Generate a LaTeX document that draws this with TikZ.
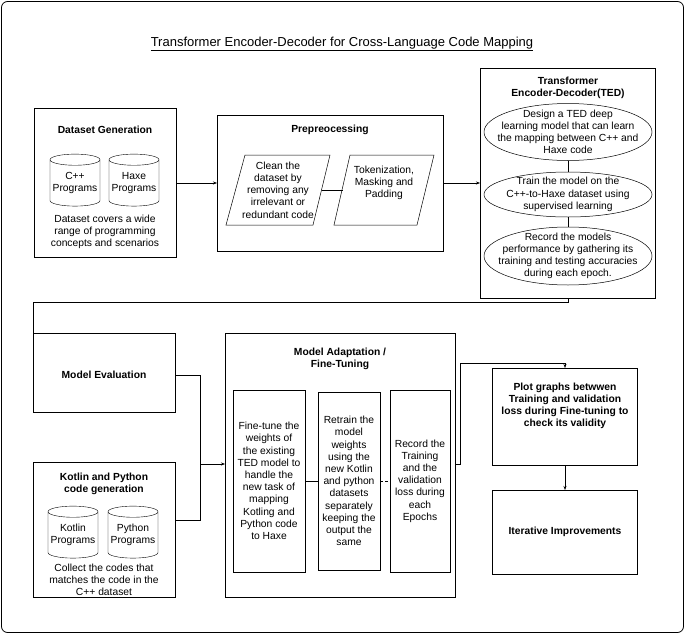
\documentclass[tikz,border=0pt]{standalone}
\usepackage{fontspec}
\setmainfont{Liberation Sans}
\usetikzlibrary{shapes.geometric,arrows.meta}
\begin{document}
\begin{tikzpicture}[x=1pt,y=-1pt,
  box/.style={draw,line width=0.7pt,inner sep=0pt},
  txt/.style={align=center,font=\fontsize{10.3}{12.2}\selectfont},
  bt/.style={align=center,font=\fontsize{10.3}{12.2}\selectfont\bfseries},
  cyl/.style={draw,cylinder,shape border rotate=90,aspect=0.25,minimum width=50pt,minimum height=52pt,inner sep=0pt,font=\fontsize{10.3}{12.2}\selectfont,align=center},
  arr/.style={-{Stealth[length=4pt,width=3pt]},line width=0.5pt},
  ln/.style={line width=0.5pt}]
\useasboundingbox (0,0) rectangle (685,634);
\draw[rounded corners=6pt,line width=0.8pt] (1.5,1.5) rectangle (683.5,632.5);
\node[font=\fontsize{13}{15}\selectfont] (title) at (342,44) {\underline{Transformer Encoder-Decoder for Cross-Language Code Mapping}};
% Dataset generation
\draw[box] (34,108) rectangle (176,257); \coordinate (dg) at (176,183);
\node[bt] (dgt) at (105,130) {Dataset Generation};
\node[cyl] (cpp) at (75,183) {C++\\Programs};
\node[cyl] (haxe) at (134,183) {Haxe\\Programs};
\node[txt] (dgd) at (105,232) {Dataset covers a wide\\range of programming\\concepts and scenarios};
% Preprocessing
\draw[box] (217,115) rectangle (443,251); \coordinate (ppl) at (217,183); \coordinate (ppr) at (443,183);
\node[bt] (ppt) at (330,130) {Prepreocessing};
\draw[ln] (245,155) -- (330,155) -- (313,225) -- (226,225) -- cycle;
\node[txt] (p1) at (278,190) {Clean the\\dataset by\\removing any\\irrelevant or\\redundant code};
\draw[ln] (350,155) -- (434,155) -- (417,225) -- (334,225) -- cycle;
\node[txt] (p2) at (384,183) {Tokenization,\\Masking and\\Padding};
\coordinate (p1r) at (321.5,190); \coordinate (p2l) at (342.5,190);
\draw[ln] (p1r) -- (p2l);
\draw[arr] (dg) -- (ppl);
% TED
\draw[box] (480,68) rectangle (655,298); \coordinate (tedl) at (480,183); \coordinate (tedb) at (568,298);
\node[bt] (tedt) at (568,88) {Transformer\\Encoder-Decoder(TED)};
\draw[ln] (568,132) ellipse (84 and 28.5);
\draw[ln] (568,194.5) ellipse (84 and 22.5);
\draw[ln] (568,256) ellipse (84 and 29);
\node[txt] (e1) at (568,132) {Design a TED deep\\learning model that can learn\\the mapping between C++ and\\Haxe code};
\node[txt] (e2) at (568,194.5) {Train the model on the\\C++-to-Haxe dataset using\\supervised learning};
\node[txt] (e3) at (568,256) {Record the models\\performance by gathering its\\training and testing accuracies\\during each epoch.};
\coordinate (e1b) at (568,160.5); \coordinate (e2t) at (568,172); \coordinate (e2b) at (568,217); \coordinate (e3t) at (568,227);
\draw[ln] (e1b) -- (e2t); \draw[ln] (e2b) -- (e3t);
\draw[arr] (ppr) -- (tedl);
% Model evaluation
\draw[box] (33,333) rectangle (175,412); \coordinate (met) at (33,333); \coordinate (mer) at (175,375);
\node[bt] (met2) at (104,375) {Model Evaluation};
\draw[ln] (tedb) -- (568,302) -- (33,302) -- (met);
% Kotlin
\draw[box] (33,462) rectangle (175,597); \coordinate (kr) at (175,520);
\node[bt] (kt) at (104,484) {Kotlin and Python\\code generation};
\node[cyl] (kot) at (73,535) {Kotlin\\Programs};
\node[cyl] (py) at (133,535) {Python\\Programs};
\node[txt] (kd) at (104,580) {Collect the codes that\\matches the code in the\\C++ dataset};
% Fine tuning
\draw[box] (225,333) rectangle (455,597); \coordinate (fl) at (225,464); \coordinate (fr) at (455,464);
\node[bt] (ft) at (340,359) {Model Adaptation /\\Fine-Tuning};
\node[draw,minimum width=72pt,minimum height=182pt,inner sep=0pt,txt] (f1) at (269,481) {Fine-tune the\\weights of\\the existing\\TED model to\\handle the\\new task of\\mapping\\Kotling and\\Python code\\to Haxe};
\node[draw,minimum width=62pt,minimum height=178pt,inner sep=0pt,txt] (f2) at (349,481) {Retrain the\\model\\weights\\using the\\new Kotlin\\and python\\datasets\\separately\\keeping the\\output the\\same};
\node[draw,minimum width=60pt,minimum height=182pt,inner sep=0pt,txt] (f3) at (420,481) {Record the\\Training\\and the\\validation\\loss during\\each\\Epochs};
\draw[ln] (f1) -- (f2); \draw[ln,dash pattern=on 3pt off 2pt] (f2) -- (f3);
\draw[ln] (mer) -- (200,375) -- (200,464);
\draw[ln] (kr) -- (200,520) -- (200,464);
\draw[arr] (200,464) -- (fl);
% Plot
\draw[box] (492,368) rectangle (637,465); \coordinate (plt) at (565,368); \coordinate (plb) at (565,465);
\node[bt] (plx) at (565,406) {Plot graphs betwwen\\Training and validation\\loss during Fine-tuning to\\check its validity};
\draw[box] (492,490) rectangle (637,574); \coordinate (itt) at (565,490);
\node[bt] (itx) at (565,532) {Iterative Improvements};
\draw[arr] (fr) -- (460,464) -- (460,363) -- (565,363) -- (plt);
\draw[arr] (plb) -- (itt);
\end{tikzpicture}
\end{document}
